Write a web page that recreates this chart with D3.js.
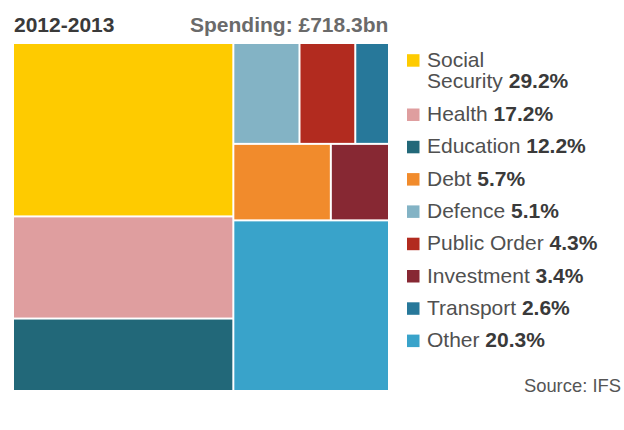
<!DOCTYPE html>
<html>
<head>
<meta charset="utf-8">
<script src="https://cdn.jsdelivr.net/npm/d3@7"></script>
<style>
  html, body { margin: 0; padding: 0; background: #fff; }
  svg { display: block; font-family: "Liberation Sans", Arial, Helvetica, sans-serif; }
</style>
</head>
<body>
<svg id="chart" width="624" height="430"></svg>
<script>
// ---- data ----
const title = "2012-2013";
const subtitle = "Spending: £718.3bn";
const source = "Source: IFS";
const categories = ["Social Security", "Health", "Education", "Debt", "Defence", "Public Order", "Investment", "Transport", "Other"];
const shares = [29.2, 17.2, 12.2, 5.7, 5.1, 4.3, 3.4, 2.6, 20.3];
const colours = ["#FECB00", "#DF9E9F", "#226879", "#F18B2C", "#83B3C5", "#B22B1F", "#872833", "#27789A", "#39A3CA"];
// block arrangement of the treemap (columns -> rows -> cells)
const leftColumn = ["Social Security", "Health", "Education"];
const rightTopRow = ["Defence", "Public Order", "Transport"];
const rightMidRow = ["Debt", "Investment"];
const rightBottom = ["Other"];

// ---- build hierarchy ----
const valueOf = name => shares[categories.indexOf(name)];
const leaf = name => ({ name, value: valueOf(name) });
const tree = {
  name: "root",
  children: [
    { name: "left", children: leftColumn.map(leaf) },
    { name: "right", children: [
      { name: "row1", children: rightTopRow.map(leaf) },
      { name: "row2", children: rightMidRow.map(leaf) },
      ...rightBottom.map(leaf)
    ]}
  ]
};

const svg = d3.select("#chart");
const box = { x: 14, y: 44, w: 374, h: 346 };

const root = d3.hierarchy(tree).sum(d => d.children ? 0 : d.value);
d3.treemap()
  .tile(d3.treemapSliceDice)
  .size([box.w, box.h])
  .paddingInner(2)
  .round(false)(root);

const colour = d3.scaleOrdinal().domain(categories).range(colours);

svg.append("g")
  .attr("transform", `translate(${box.x},${box.y})`)
  .selectAll("rect")
  .data(root.leaves())
  .join("rect")
  .attr("x", d => d.x0)
  .attr("y", d => d.y0)
  .attr("width", d => d.x1 - d.x0)
  .attr("height", d => d.y1 - d.y0)
  .attr("fill", d => colour(d.data.name));

// ---- titles ----
svg.append("text").attr("x", 14).attr("y", 31.7)
  .attr("font-size", 21).attr("font-weight", "bold").attr("fill", "#3a3a3a")
  .text(title);
svg.append("text").attr("x", 190).attr("y", 31.7)
  .attr("font-size", 21).attr("font-weight", "bold").attr("fill", "#6a6a6a")
  .text(subtitle);

// ---- legend ----
const lg = svg.append("g").attr("font-size", 21);
const baseY = i => i === 0 ? 66.7 : 121 + (i - 1) * 32.3;
categories.forEach((c, i) => {
  const y = baseY(i);
  lg.append("rect").attr("x", 407).attr("y", y - 12.5).attr("width", 12.5).attr("height", 12.5)
    .attr("fill", colour(c));
  const pct = shares[i].toFixed(1) + "%";
  if (c === "Social Security") {
    lg.append("text").attr("x", 427).attr("y", y).attr("fill", "#505050").text("Social");
    const t = lg.append("text").attr("x", 427).attr("y", y + 21.6).attr("fill", "#505050");
    t.append("tspan").text("Security ");
    t.append("tspan").attr("font-weight", "bold").attr("fill", "#3a3a3a").text(pct);
  } else {
    const t = lg.append("text").attr("x", 427).attr("y", y).attr("fill", "#505050");
    t.append("tspan").text(c + " ");
    t.append("tspan").attr("font-weight", "bold").attr("fill", "#3a3a3a").text(pct);
  }
});

svg.append("text").attr("x", 621).attr("y", 391.7).attr("text-anchor", "end")
  .attr("font-size", 18.4).attr("fill", "#555").text(source);
</script>
</body>
</html>
